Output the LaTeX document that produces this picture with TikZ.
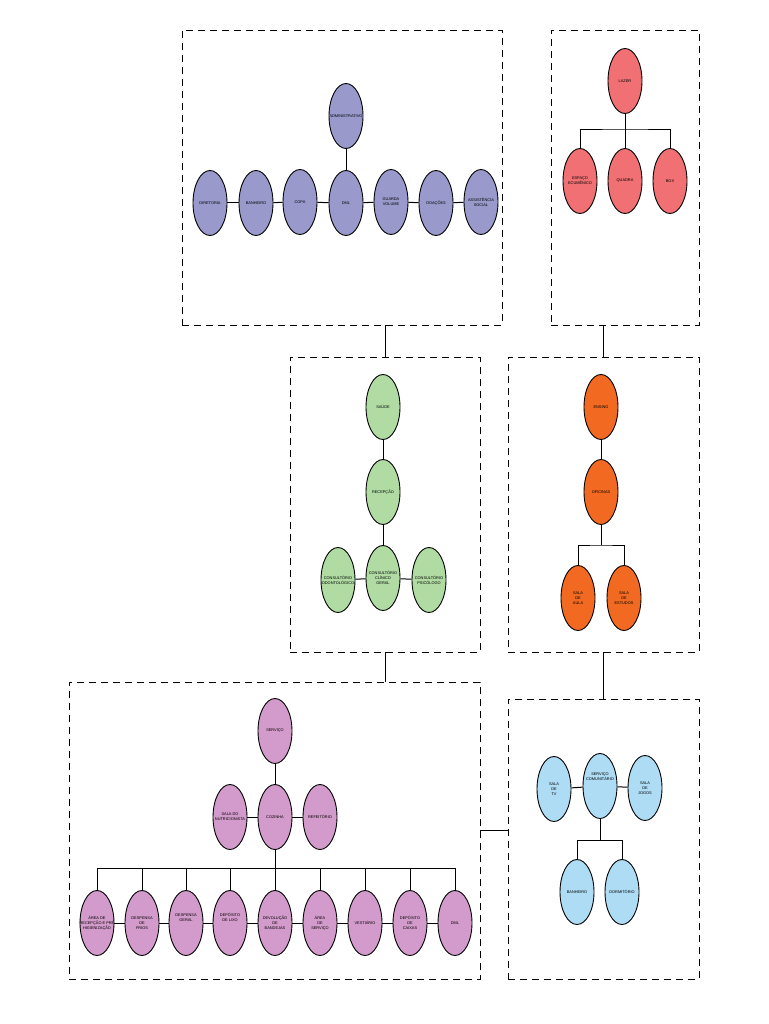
\documentclass[tikz,border=0pt]{standalone}
\usepackage{fontspec}
\setmainfont{Liberation Sans}
\usetikzlibrary{shapes.geometric}
\definecolor{cpurp}{RGB}{153,153,204}
\definecolor{cred}{RGB}{240,112,115}
\definecolor{cgreen}{RGB}{176,220,164}
\definecolor{corange}{RGB}{242,106,34}
\definecolor{cpink}{RGB}{211,155,203}
\definecolor{cblue}{RGB}{174,220,245}
\tikzset{
  ell/.style={ellipse, draw=black, line width=0.9pt, fill=#1, minimum width=34pt, minimum height=65pt, inner sep=0pt},
  lbl/.style={font=\fontsize{3.9}{4.9}\selectfont, align=center, inner sep=0pt, text=black},
  dbox/.style={draw=black, line width=0.8pt, dash pattern=on 7pt off 5pt, inner sep=0pt},
  conn/.style={draw=black, line width=1pt},
}
\newcommand{\ovl}[5]{\node[ell=#1, label={[lbl]center:#5}] (#2) at (#3,#4) {};}
\begin{document}
\begin{tikzpicture}[x=1pt,y=-1pt]
\useasboundingbox (0,0) rectangle (768,1024);
% dashed boxes
\node[dbox, minimum width=320pt, minimum height=295pt] (b1) at (342,177.5) {};
\node[dbox, minimum width=148pt, minimum height=295pt] (b2) at (625,177.5) {};
\node[dbox, minimum width=190pt, minimum height=295pt] (b3) at (385,504.5) {};
\node[dbox, minimum width=191pt, minimum height=295pt] (b4) at (603.5,504.5) {};
\node[dbox, minimum width=411pt, minimum height=297pt] (b5) at (274.5,830.5) {};
\node[dbox, minimum width=191pt, minimum height=280pt] (b6) at (603.5,839) {};
% box connectors
\draw[conn] (b3.north) -- (b3.north |- b1.south);
\draw[conn] (b4.north) -- (b4.north |- b2.south);
\draw[conn] (b3.south) -- (b3.south |- b5.north);
\draw[conn] (b4.south) -- (b6.north);
\draw[conn] (b5.east) -- (b5.east -| b6.west);

% ADMINISTRATIVO
\ovl{cpurp}{adm}{346}{116}{ADMINISTRATIVO}
\ovl{cpurp}{dir}{210}{203}{DIRETORIA}
\ovl{cpurp}{ban}{256}{203}{BANHEIRO}
\ovl{cpurp}{copa}{300}{202}{COPA}
\ovl{cpurp}{dml}{346}{203}{DML}
\ovl{cpurp}{gua}{391}{202}{GUARDA\\VOLUME}
\ovl{cpurp}{doa}{436}{203}{DOAÇÕES}
\ovl{cpurp}{ass}{481}{202}{ASSISTÊNCIA\\SOCIAL}
\draw[conn] (adm) -- (dml);
\draw[conn] (dir) -- (ban);
\draw[conn] (ban) -- (copa);
\draw[conn] (copa) -- (dml);
\draw[conn] (dml) -- (gua);
\draw[conn] (gua) -- (doa);
\draw[conn] (doa) -- (ass);

% LAZER
\ovl{cred}{laz}{625}{81}{LAZER}
\ovl{cred}{esp}{580}{181}{ESPAÇO\\ECUMÊNICO}
\ovl{cred}{qua}{625}{181}{QUADRA}
\ovl{cred}{box}{670}{181}{BOX}
\coordinate (lzbar) at (625,130);
\draw[conn] (laz) -- (qua);
\draw[conn] (esp.north) |- (lzbar) -| (box.north);

% SAUDE
\ovl{cgreen}{sau}{383}{407}{SAÚDE}
\ovl{cgreen}{rec}{383}{492}{RECEPÇÃO}
\ovl{cgreen}{odo}{338}{580}{CONSULTÓRIO\\ODONTOLÓGICO}
\ovl{cgreen}{cli}{383}{578}{CONSULTÓRIO\\CLÍNICO\\GERAL}
\ovl{cgreen}{psi}{429}{580}{CONSULTÓRIO\\PSICÓLOGO}
\draw[conn] (sau) -- (rec);
\draw[conn] (rec) -- (cli);
\draw[conn] (odo) -- (cli);
\draw[conn] (cli) -- (psi);

% ENSINO
\ovl{corange}{ens}{601}{407}{ENSINO}
\ovl{corange}{ofi}{601}{492}{OFICINAS}
\ovl{corange}{aul}{578}{598}{SALA\\DE\\AULA}
\ovl{corange}{est}{624}{598}{SALA\\DE\\ESTUDOS}
\coordinate (ofbar) at (601,545);
\draw[conn] (ens) -- (ofi);
\draw[conn] (ofi) -- (ofbar);
\draw[conn] (aul.north) |- (ofbar) -| (est.north);

% SERVICO
\ovl{cpink}{ser}{275}{731}{SERVIÇO}
\ovl{cpink}{nut}{230}{817}{SALA DO\\NUTRICIONISTA}
\ovl{cpink}{coz}{275}{817}{COZINHA}
\ovl{cpink}{ref}{320}{817}{REFEITÓRIO}
\draw[conn] (ser) -- (coz);
\draw[conn] (nut) -- (coz);
\draw[conn] (coz) -- (ref);
\ovl{cpink}{are}{97}{923}{ÁREA DE\\RECEPÇÃO E PRÉ\\HIGIENIZAÇÃO}
\ovl{cpink}{dfr}{142}{923}{DESPENSA\\DE\\FRIOS}
\ovl{cpink}{dge}{186}{923}{DESPENSA\\GERAL\\[6pt]}
\ovl{cpink}{dli}{230}{923}{DEPÓSITO\\DE LIXO\\[6pt]}
\ovl{cpink}{dev}{275}{923}{DEVOLUÇÃO\\DE\\BANDEJAS}
\ovl{cpink}{ase}{320}{923}{ÁREA\\DE\\SERVIÇO}
\ovl{cpink}{ves}{365}{923}{VESTIÁRIO}
\ovl{cpink}{dca}{410}{923}{DEPÓSITO\\DE\\CAIXAS}
\ovl{cpink}{dm2}{455}{923}{DML}
\coordinate (pbar) at (275,868);
\draw[conn] (coz) -- (pbar);
\draw[conn] (are.north) |- (pbar) -| (dm2.north);
\foreach \n in {dfr,dge,dli,dev,ase,ves,dca}{\draw[conn] (\n.north) -- (\n.north |- pbar);}
\draw[conn] (are) -- (dfr);
\draw[conn] (dfr) -- (dge);
\draw[conn] (dge) -- (dli);
\draw[conn] (dli) -- (dev);
\draw[conn] (dev) -- (ase);
\draw[conn] (ase) -- (ves);
\draw[conn] (ves) -- (dca);
\draw[conn] (dca) -- (dm2);

% SERVICO COMUNITARIO
\ovl{cblue}{tv}{554}{789}{SALA\\DE\\TV}
\ovl{cblue}{sco}{600}{786}{SERVIÇO\\COMUNITÁRIO\\[14pt]}
\ovl{cblue}{jog}{645}{788}{SALA\\DE\\JOGOS}
\ovl{cblue}{bnh}{577}{892}{BANHEIRO}
\ovl{cblue}{dor}{622}{892}{DORMITÓRIO}
\coordinate (scbar) at (600,840);
\draw[conn] (tv) -- (sco);
\draw[conn] (sco) -- (jog);
\draw[conn] (sco) -- (scbar);
\draw[conn] (bnh.north) |- (scbar) -| (dor.north);
\end{tikzpicture}
\end{document}
